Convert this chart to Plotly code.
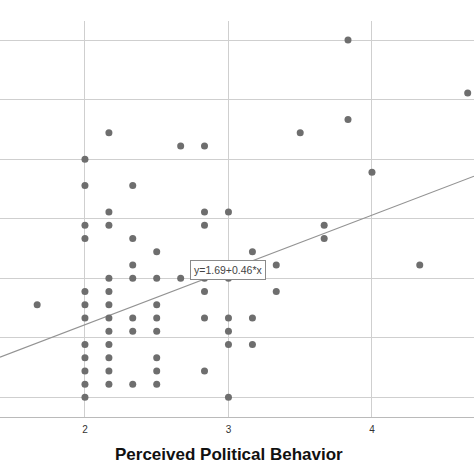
import plotly.graph_objects as go

# Data (x in sixths, y in ninths)
x_vals = [
    1.667,
    2.0, 2.0, 2.0, 2.0, 2.0, 2.0, 2.0, 2.0, 2.0, 2.0, 2.0, 2.0,
    2.167, 2.167, 2.167, 2.167, 2.167, 2.167, 2.167, 2.167, 2.167, 2.167, 2.167, 2.167,
    2.333, 2.333, 2.333, 2.333, 2.333, 2.333, 2.333,
    2.5, 2.5, 2.5, 2.5, 2.5, 2.5, 2.5, 2.5,
    2.667, 2.667,
    2.833, 2.833, 2.833, 2.833, 2.833, 2.833, 2.833,
    3.0, 3.0, 3.0, 3.0, 3.0, 3.0,
    3.167, 3.167, 3.167,
    3.333, 3.333,
    3.5,
    3.667, 3.667,
    3.833, 3.833,
    4.0,
    4.333,
    4.667,
]
y_vals = [
    2.778,
    4.0, 3.778, 3.444, 3.333, 2.889, 2.778, 2.667, 2.444, 2.333, 2.222, 2.111, 2.0,
    4.222, 3.556, 3.444, 3.0, 2.889, 2.778, 2.667, 2.556, 2.444, 2.333, 2.222, 2.111,
    3.778, 3.333, 3.111, 3.0, 2.667, 2.556, 2.111,
    3.222, 3.0, 2.778, 2.667, 2.556, 2.333, 2.222, 2.111,
    4.111, 3.0,
    4.111, 3.556, 3.444, 3.0, 2.889, 2.667, 2.222,
    3.556, 3.0, 2.667, 2.556, 2.444, 2.0,
    3.222, 2.667, 2.444,
    3.111, 2.889,
    4.222,
    3.444, 3.333,
    5.0, 4.333,
    3.889,
    3.111,
    4.556,
]

intercept = 1.69
slope = 0.46
x_ticks = [2, 3, 4]
x_title = "Perceived Political Behavior"
fit_label = "y=1.69+0.46*x"

x_range = [1.408, 4.711]
y_range = [1.835, 5.16]

FONT = "Liberation Sans, Arial, sans-serif"

fig = go.Figure()

fig.add_trace(go.Scatter(
    x=x_range,
    y=[intercept + slope * v for v in x_range],
    mode="lines",
    line=dict(color="#939393", width=1.1),
    hoverinfo="skip",
    showlegend=False,
))

fig.add_trace(go.Scatter(
    x=x_vals, y=y_vals,
    mode="markers",
    marker=dict(size=7, color="#6e6e6e", line=dict(width=0)),
    showlegend=False,
))

fig.add_annotation(
    x=3, y=intercept + slope * 3,
    text=fit_label,
    showarrow=False,
    xanchor="center", yanchor="middle",
    font=dict(family=FONT, size=10.5, color="#444444"),
    bgcolor="white",
    bordercolor="#8a8a8a",
    borderwidth=1,
    borderpad=3,
)

# x-axis title (centred as in the reference)
fig.add_annotation(
    xref="paper", yref="paper",
    x=229 / 474, y=-(454 - 417) / 396,
    text="<b>" + x_title + "</b>",
    showarrow=False,
    xanchor="center", yanchor="middle",
    font=dict(family=FONT, size=17, color="#111111"),
)

fig.update_layout(
    width=474, height=474,
    margin=dict(l=0, r=0, t=21, b=57),
    paper_bgcolor="white",
    plot_bgcolor="white",
    font=dict(family=FONT, color="#222222"),
)

fig.update_xaxes(
    range=x_range,
    tickmode="array", tickvals=x_ticks, ticktext=[str(t) for t in x_ticks],
    tickfont=dict(size=10, color="#333333"),
    ticks="outside", ticklen=3, tickcolor="rgba(0,0,0,0)",
    showgrid=True, gridcolor="#cfcfcf", gridwidth=1.2,
    zeroline=False,
    showline=True, linecolor="#bababa", linewidth=1.2,
)

fig.update_yaxes(
    range=y_range,
    dtick=0.5, tick0=0,
    showticklabels=False,
    showgrid=True, gridcolor="#cfcfcf", gridwidth=1.2,
    zeroline=False,
    showline=False,
)

fig.write_html("out.html")
